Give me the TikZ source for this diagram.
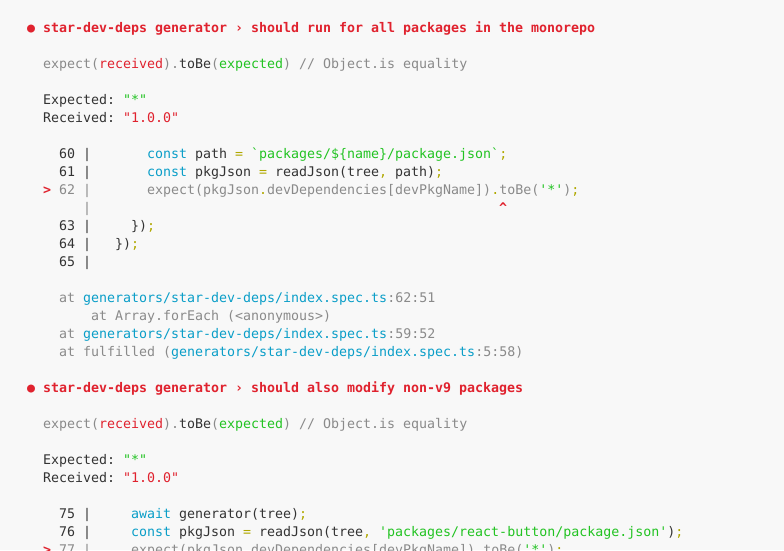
\documentclass[tikz,border=0pt]{standalone}
\usepackage{fontspec}
\setmonofont{DejaVu Sans Mono}
\definecolor{cred}{HTML}{E0222E}
\definecolor{cgreen}{HTML}{22C322}
\definecolor{ccyan}{HTML}{0A9EC8}
\definecolor{cgray}{HTML}{8A8A8A}
\definecolor{cdark}{HTML}{333333}
\definecolor{cyel}{HTML}{B0A800}
\definecolor{cbg}{HTML}{F8F8F8}
\newcommand\R[1]{\textcolor{cred}{#1}}
\newcommand\G[1]{\textcolor{cgreen}{#1}}
\newcommand\C[1]{\textcolor{ccyan}{#1}}
\newcommand\Y[1]{\textcolor{cyel}{#1}}
\newcommand\D[1]{\textcolor{cdark}{#1}}
\newcommand\Gy[1]{\textcolor{cgray}{#1}}
\newcommand\Tl[4]{\node[tl] (#1) at ({43pt+#2*8pt},{-#3pt}) {#4};}
\tikzset{tl/.style={anchor=base west,inner sep=0pt,text=cdark,font=\ttfamily\fontsize{13.29}{18}\selectfont}}
\begin{document}
\begin{tikzpicture}[x=1pt,y=1pt]
\fill[cbg] (0,0) rectangle (784,-550);
\useasboundingbox (0,0) rectangle (784,-550);
\begin{scope}
\clip (0,0) rectangle (784,-550);
% block 1
\Tl{b1}{-2}{32}{\R{●}}
\Tl{t1}{0}{32}{\bfseries\R{star-dev-deps generator › should run for all packages in the monorepo}}
\Tl{e1}{0}{68}{\Gy{expect(}\R{received}\Gy{).}\D{toBe}\Gy{(}\G{expected}\Gy{) // Object.is equality}}
\Tl{x1}{0}{104}{Expected: \G{"*"}}
\Tl{r1}{0}{122}{Received: \R{"1.0.0"}}
\Tl{g60}{2}{158}{60 |}
\Tl{c60}{13}{158}{\C{const} path \Y{=} \G{`packages/\$\{name\}/package.json`}\Y{;}}
\Tl{g61}{2}{176}{61 |}
\Tl{c61}{13}{176}{\C{const} pkgJson \Y{=} readJson(tree\Y{,} path)\Y{;}}
\Tl{m62}{0}{194}{\bfseries\R{>}}
\Tl{g62}{2}{194}{\Gy{62 |}}
\Tl{c62}{13}{194}{\Gy{expect(pkgJson}\Y{.}\Gy{devDependencies[devPkgName])}\Y{.}\Gy{toBe(}\G{'*'}\Gy{)}\Y{;}}
\Tl{gc}{5}{212}{\Gy{|}}
\Tl{caret}{57}{212}{\bfseries\R{\textasciicircum}}
\Tl{g63}{2}{230}{63 |}
\Tl{c63}{11}{230}{\})\Y{;}}
\Tl{g64}{2}{248}{64 |}
\Tl{c64}{9}{248}{\})\Y{;}}
\Tl{g65}{2}{266}{65 |}
\Tl{s1}{2}{302}{\Gy{at }\C{generators/star-dev-deps/index.spec.ts}\Gy{:62:51}}
\Tl{s2}{6}{320}{\Gy{at Array.forEach (<anonymous>)}}
\Tl{s3}{2}{338}{\Gy{at }\C{generators/star-dev-deps/index.spec.ts}\Gy{:59:52}}
\Tl{s4}{2}{356}{\Gy{at fulfilled (}\C{generators/star-dev-deps/index.spec.ts}\Gy{:5:58)}}
% block 2
\Tl{b2}{-2}{392}{\R{●}}
\Tl{t2}{0}{392}{\bfseries\R{star-dev-deps generator › should also modify non-v9 packages}}
\Tl{e2}{0}{428}{\Gy{expect(}\R{received}\Gy{).}\D{toBe}\Gy{(}\G{expected}\Gy{) // Object.is equality}}
\Tl{x2}{0}{464}{Expected: \G{"*"}}
\Tl{r2}{0}{482}{Received: \R{"1.0.0"}}
\Tl{g75}{2}{518}{75 |}
\Tl{c75}{11}{518}{\C{await} generator(tree)\Y{;}}
\Tl{g76}{2}{536}{76 |}
\Tl{c76}{11}{536}{\C{const} pkgJson \Y{=} readJson(tree\Y{,} \G{'packages/react-button/package.json'})\Y{;}}
\Tl{m77}{0}{554}{\bfseries\R{>}}
\Tl{g77}{2}{554}{\Gy{77 |}}
\Tl{c77}{11}{554}{\Gy{expect(pkgJson}\Y{.}\Gy{devDependencies[devPkgName])}\Y{.}\Gy{toBe(}\G{'*'}\Gy{)}\Y{;}}
\end{scope}
\end{tikzpicture}
\end{document}
